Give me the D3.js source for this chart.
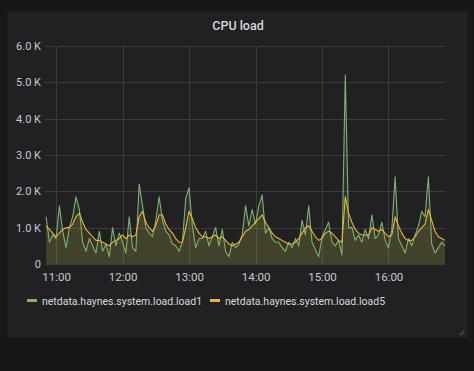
<!DOCTYPE html>
<html>
<head>
<meta charset="utf-8">
<script src="https://cdn.jsdelivr.net/npm/d3@7"></script>
<style>
  html, body { margin: 0; padding: 0; background: #161719; }
  svg { display: block; font-family: Roboto, "Helvetica Neue", Arial, sans-serif; }
</style>
</head>
<body>
<div id="chart"></div>
<script>
// Series values, one point every 3 minutes from 10:51
var startTime = "10:51";
var stepMinutes = 3;

var load1 = [
  1300, 600, 800, 700, 1600, 900, 450, 1000, 1300, 1850,
  1500, 600, 350, 700, 500, 300, 900, 350, 550, 200,
  1000, 500, 850, 600, 300, 1300, 450, 350, 2200, 1600,
  1000, 850, 750, 1200, 1850, 1200, 900, 800, 550, 500,
  350, 600, 1800, 2100, 1050, 450, 700, 700, 900, 500,
  750, 1000, 500, 950, 350, 200, 600, 450, 550, 800,
  1600, 1050, 1500, 1100, 1600, 1900, 850, 1000, 700, 600,
  600, 450, 350, 600, 450, 700, 500, 1200, 800, 1600,
  600, 400, 200, 750, 950, 1150, 600, 500, 650, 250,
  5200, 1000, 1000, 650, 800, 600, 950, 700, 1350, 700,
  800, 1150, 650, 450, 950, 2400, 700, 500, 300, 700,
  500, 800, 1050, 1450, 1300, 2400, 550, 300, 450, 600,
  500
];

var load5 = [
  1050, 950, 850, 750, 850, 950, 1000, 1000, 1100, 1300,
  1400, 1150, 950, 850, 750, 650, 650, 600, 550, 500,
  600, 650, 700, 800, 700, 800, 750, 800, 1300, 1450,
  1150, 1000, 900, 1050, 1350, 1350, 1100, 950, 850, 700,
  600, 600, 1000, 1450, 1250, 1000, 850, 750, 750, 700,
  750, 800, 700, 750, 650, 550, 500, 550, 600, 750,
  900, 950, 1050, 1150, 1250, 1350, 1150, 1000, 850, 750,
  700, 650, 600, 550, 550, 600, 700, 850, 1000, 1050,
  900, 750, 650, 700, 850, 900, 850, 750, 650, 600,
  1850, 1400, 1150, 950, 850, 800, 800, 800, 1000, 950,
  900, 950, 850, 750, 800, 1300, 1050, 850, 700, 650,
  650, 750, 900, 1000, 1100, 1500, 1200, 900, 750, 700,
  650
];

var seriesNames = ["netdata.haynes.system.load.load1", "netdata.haynes.system.load.load5"];
var seriesColors = ["#7eb26d", "#eab839"];
var yTicks = [0, 1000, 2000, 3000, 4000, 5000, 6000];
var xTicks = ["11:00", "12:00", "13:00", "14:00", "15:00", "16:00"];
var xDomain = ["10:50", "16:51"];

// Chart dimensions
var width = 474, height = 371;
var plot = {left: 45, right: 445, top: 46, bottom: 264};

var parse = d3.timeParse("%H:%M");
var t0 = parse(startTime);

function toPoints(values) {
  return values.map(function(v, i) {
    return {t: d3.timeMinute.offset(t0, i * stepMinutes), v: v};
  });
}
var series = [toPoints(load1), toPoints(load5)];

var x = d3.scaleTime()
    .domain(xDomain.map(parse))
    .range([plot.left, plot.right]);

var y = d3.scaleLinear()
    .domain([0, 6000])
    .range([plot.bottom, plot.top]);

var svg = d3.select("#chart").append("svg")
    .attr("width", width)
    .attr("height", height);

// Panel
svg.append("rect")
    .attr("x", 8).attr("y", 12)
    .attr("width", 459).attr("height", 325)
    .attr("fill", "#212124")
    .attr("stroke", "#242428");

svg.append("text")
    .attr("x", 238).attr("y", 30)
    .attr("text-anchor", "middle")
    .attr("fill", "#d8d9da")
    .style("font-size", "12.5px")
    .style("font-weight", 500)
    .text("CPU load");

// Grid
var grid = svg.append("g").attr("class", "grid");
grid.selectAll(".hline")
    .data(yTicks)
    .enter().append("line")
    .attr("x1", plot.left).attr("x2", plot.right)
    .attr("y1", function(d) { return Math.round(y(d)) + 0.5; })
    .attr("y2", function(d) { return Math.round(y(d)) + 0.5; })
    .attr("stroke", "#3c3c40");

grid.selectAll(".vline")
    .data(xTicks)
    .enter().append("line")
    .attr("x1", function(d) { return Math.round(x(parse(d))) + 0.5; })
    .attr("x2", function(d) { return Math.round(x(parse(d))) + 0.5; })
    .attr("y1", plot.top).attr("y2", plot.bottom)
    .attr("stroke", "#3c3c40");

// Axes (labels only)
var yAxis = d3.axisLeft(y)
    .tickValues(yTicks)
    .tickSize(0)
    .tickPadding(4)
    .tickFormat(function(d) { return d === 0 ? "0" : d3.format(".1f")(d / 1000) + " K"; });

svg.append("g")
    .attr("transform", "translate(" + plot.left + ",0)")
    .call(yAxis)
    .call(function(g) { g.select(".domain").remove(); })
    .selectAll("text")
    .attr("fill", "#c8c9ca")
    .style("font-size", "11px")
    .style("font-family", "Roboto, sans-serif");

var xAxis = d3.axisBottom(x)
    .tickValues(xTicks.map(parse))
    .tickSize(0)
    .tickPadding(9)
    .tickFormat(d3.timeFormat("%H:%M"));

svg.append("g")
    .attr("transform", "translate(0," + plot.bottom + ")")
    .call(xAxis)
    .call(function(g) { g.select(".domain").remove(); })
    .selectAll("text")
    .attr("fill", "#c8c9ca")
    .style("font-size", "11.5px")
    .style("font-family", "Roboto, sans-serif");

// Series: fill + line
var area = d3.area()
    .x(function(d) { return x(d.t); })
    .y0(y(0))
    .y1(function(d) { return y(d.v); });

var line = d3.line()
    .x(function(d) { return x(d.t); })
    .y(function(d) { return y(d.v); });

series.forEach(function(s, i) {
  svg.append("path")
      .datum(s)
      .attr("d", area)
      .attr("fill", seriesColors[i])
      .attr("fill-opacity", 0.12);
});

series.forEach(function(s, i) {
  svg.append("path")
      .datum(s)
      .attr("d", line)
      .attr("fill", "none")
      .attr("stroke", seriesColors[i])
      .attr("stroke-width", 1.1)
      .attr("stroke-linejoin", "round");
});

// Legend
var legendX = [27, 210];
var legend = svg.append("g").attr("class", "legend");
seriesNames.forEach(function(name, i) {
  legend.append("rect")
      .attr("x", legendX[i]).attr("y", 299)
      .attr("width", 10).attr("height", 3)
      .attr("fill", seriesColors[i]);
  legend.append("text")
      .attr("x", legendX[i] + 15).attr("y", 304.5)
      .attr("fill", "#d8d9da")
      .style("font-size", "10.5px")
      .text(name);
});

// resize handle
svg.append("path")
    .attr("d", "M459,334 L463,334 L463,330")
    .attr("fill", "none")
    .attr("stroke", "#555")
    .attr("stroke-width", 1);
</script>
</body>
</html>
